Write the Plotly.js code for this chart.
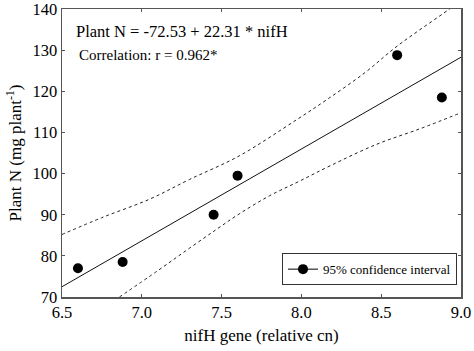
<!DOCTYPE html>
<html>
<head>
<meta charset="utf-8">
<script src="https://cdn.plot.ly/plotly-3.0.1.min.js"></script>
<style>html,body{margin:0;padding:0;background:#fff;}#chart{width:474px;height:351px;}</style>
</head>
<body>
<div id="chart"></div>
<script>
// Observed data
const nifH = [6.60, 6.88, 7.45, 7.60, 8.60, 8.88];
const plantN = [77.0, 78.5, 90.0, 99.5, 128.8, 118.5];

// Regression line (endpoints)
const fitX = [6.5, 9.0];
const fitY = [72.5, 128.3];

// Upper 95% confidence band
const upperX = [6.5, 6.75, 7.05, 7.3, 7.61, 7.97, 8.16, 8.4, 8.6, 8.92, 8.96];
const upperY = [85.2, 89.3, 93.8, 98.6, 104.3, 113.1, 118.0, 124.6, 131.0, 139.8, 141.0];

// Lower 95% confidence band
const lowerX = [6.86, 7.1, 7.3, 7.47, 7.61, 7.8, 7.99, 8.18, 8.47, 8.75, 9.0];
const lowerY = [70.0, 76.4, 81.9, 86.5, 90.2, 94.6, 98.2, 101.9, 107.1, 111.0, 114.8];

const yTicks = [70, 80, 90, 100, 110, 120, 130, 140];
const xTicks = [6.5, 7.0, 7.5, 8.0, 8.5, 9.0];

const legendLabel = '95% confidence interval';

const serif = 'Liberation Serif';

const traces = [
  {x: upperX, y: upperY, mode: 'lines', line: {color: '#222', width: 1, dash: '3px,3px', shape: 'spline'}, showlegend: false, hoverinfo: 'skip'},
  {x: lowerX, y: lowerY, mode: 'lines', line: {color: '#222', width: 1, dash: '3px,3px', shape: 'spline'}, showlegend: false, hoverinfo: 'skip'},
  {x: fitX, y: fitY, mode: 'lines', line: {color: '#111', width: 1}, showlegend: false},
  {x: nifH, y: plantN, mode: 'markers', marker: {color: '#000', size: 10}, showlegend: false},
  {x: [null], y: [null], mode: 'lines+markers', name: legendLabel, marker: {color: '#000', size: 10}, line: {color: '#000', width: 1}, showlegend: true}
];

const axisCommon = {
  showgrid: false, zeroline: false, showline: true, mirror: 'ticks',
  linecolor: '#555', linewidth: 1.5, ticks: 'inside', ticklen: 3, tickcolor: '#555',
  ticklabeloverflow: 'allow',
  tickfont: {family: serif, size: 16.5, color: '#000'}
};

const layout = {
  width: 474, height: 351,
  margin: {l: 62, r: 13, t: 9, b: 54},
  paper_bgcolor: '#fff', plot_bgcolor: '#fff',
  font: {family: serif, color: '#000'},
  xaxis: Object.assign({}, axisCommon, {
    range: [6.5, 9.0], tickmode: 'array', tickvals: xTicks, ticktext: xTicks.map(v => v.toFixed(1)),
    title: {text: 'nifH gene (relative cn)', font: {family: serif, size: 17}, standoff: 8}
  }),
  yaxis: Object.assign({}, axisCommon, {
    range: [70, 140.02], tickmode: 'array', tickvals: yTicks, ticktext: yTicks.map(String),
    title: {text: 'Plant N (mg plant<sup>-1</sup>)', font: {family: serif, size: 17}, standoff: 6}
  }),
  showlegend: true,
  legend: {
    x: 0.99, y: 0.041, xanchor: 'right', yanchor: 'bottom',
    bgcolor: '#fff', bordercolor: '#333', borderwidth: 1,
    font: {family: serif, size: 13},
    itemwidth: 30, tracegroupgap: 0
  },
  annotations: [
    {xref: 'paper', yref: 'paper', x: 0.03, y: 0.921, xanchor: 'left', yanchor: 'middle', showarrow: false,
     text: 'Plant N = -72.53 + 22.31 * nifH', font: {family: serif, size: 16.5}},
    {xref: 'paper', yref: 'paper', x: 0.038, y: 0.841, xanchor: 'left', yanchor: 'middle', showarrow: false,
     text: 'Correlation: r = 0.962*', font: {family: serif, size: 15}}
  ]
};

Plotly.newPlot('chart', traces, layout, {displayModeBar: false, staticPlot: true});
</script>
</body>
</html>
